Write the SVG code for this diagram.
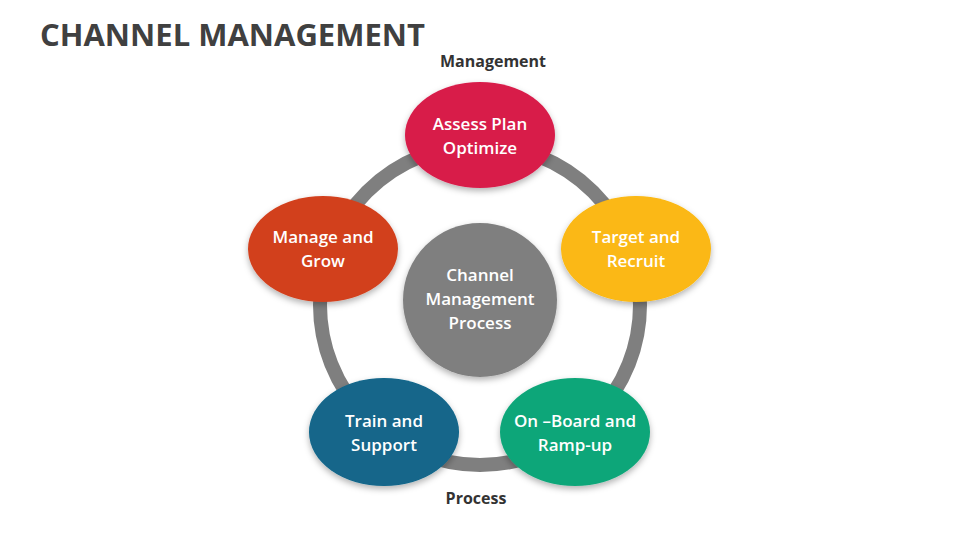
<svg xmlns="http://www.w3.org/2000/svg" width="960" height="540" viewBox="0 0 960 540">
<defs>
<style>
.t{font-family:"Open Sans","Liberation Sans",sans-serif;font-weight:600;font-size:17px;fill:#fff;text-anchor:middle}
.l{font-family:"Open Sans","Liberation Sans",sans-serif;font-weight:700;font-size:16px;fill:#333;text-anchor:middle}
</style>
<filter id="sh" x="-20%" y="-20%" width="140%" height="150%"><feDropShadow dx="0" dy="3" stdDeviation="3" flood-opacity="0.3"/></filter>
</defs>
<rect width="960" height="540" fill="#fff"/>
<text x="40" y="46" font-family="'Open Sans','Liberation Sans',sans-serif" font-weight="700" font-size="31" fill="#404040">CHANNEL MANAGEMENT</text>
<text class="l" x="493" y="67">Management</text>
<text class="l" x="476" y="504">Process</text>
<g id="connectors"><circle cx="480" cy="305" r="160" fill="none" stroke="#7f7f7f" stroke-width="14"/></g>
<g id="center"><circle cx="480" cy="300" r="77" fill="#7f7f7f" filter="url(#sh)"/>
<text class="t" x="480" y="281">Channel</text><text class="t" x="480" y="305">Management</text><text class="t" x="480" y="329">Process</text></g>
<g id="assess"><ellipse cx="480" cy="135" rx="75" ry="53" fill="#d81b4a" filter="url(#sh)"/>
<text class="t" x="480" y="130">Assess Plan</text><text class="t" x="480" y="154">Optimize</text></g>
<g id="target"><ellipse cx="636" cy="249" rx="75" ry="53" fill="#fbb812" filter="url(#sh)"/>
<text class="t" x="636" y="243">Target and</text><text class="t" x="636" y="267">Recruit</text></g>
<g id="onboard"><ellipse cx="575" cy="432" rx="75" ry="54" fill="#0ea679" filter="url(#sh)"/>
<text class="t" x="575" y="427">On –Board and</text><text class="t" x="575" y="451">Ramp-up</text></g>
<g id="train"><ellipse cx="384" cy="432" rx="75" ry="54" fill="#12668a" filter="url(#sh)"/>
<text class="t" x="384" y="427">Train and</text><text class="t" x="384" y="451">Support</text></g>
<g id="manage"><ellipse cx="323" cy="249" rx="75" ry="53" fill="#d2401e" filter="url(#sh)"/>
<text class="t" x="323" y="243">Manage and</text><text class="t" x="323" y="267">Grow</text></g>
</svg>
